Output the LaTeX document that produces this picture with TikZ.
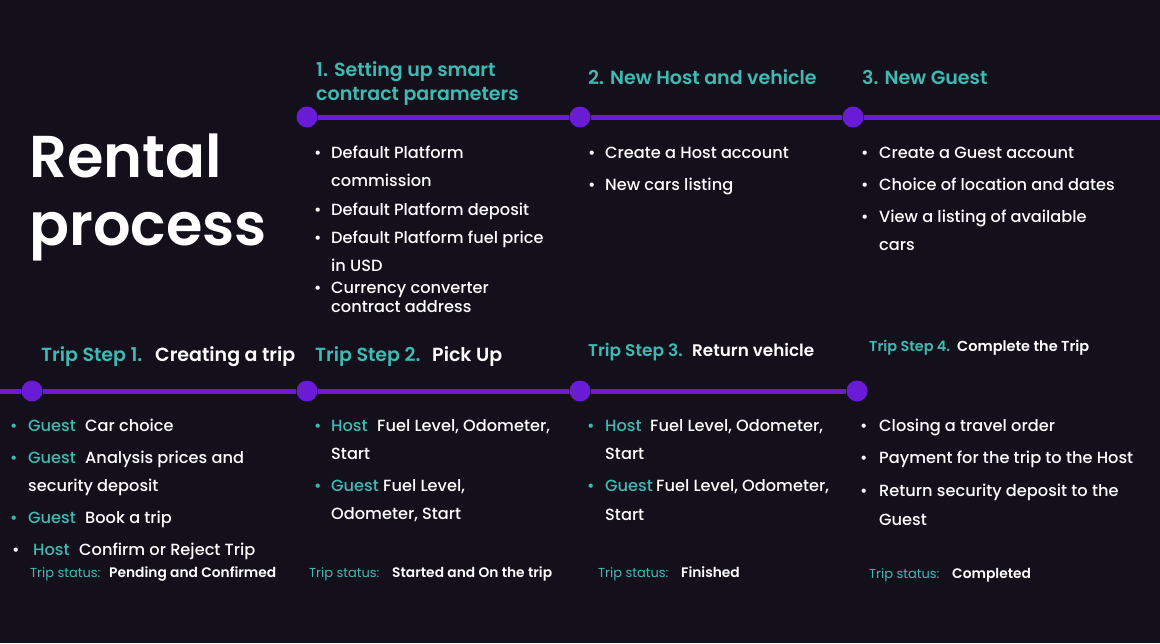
\documentclass[tikz,border=0pt]{standalone}
\usepackage{fontspec}
\setmainfont{Poppins}[UprightFont=* Medium, BoldFont=* SemiBold]
\newfontfamily\lightf{Poppins}
\definecolor{bgc}{HTML}{13101C}
\definecolor{purp}{HTML}{6A1BD6}
\definecolor{teal}{HTML}{3FBAB2}
\newcommand{\fs}[1]{\fontsize{#1}{#1}\selectfont}
\tikzset{
  tl/.style={line width=5pt, draw=purp},
  dotn/.style={circle, fill=purp, inner sep=0pt, minimum size=21pt},
  hd/.style={anchor=mid west, inner sep=0pt, yshift=-3.5pt, text=teal, font=\bfseries\fs{19}},
  tx/.style={anchor=mid west, inner sep=0pt, yshift=-3.5pt, text=white, font=\fs{16.2}},
  bl/.style={anchor=mid west, inner sep=0pt, yshift=-3.5pt, text=white, font=\fs{16}},
  st/.style={anchor=mid west, inner sep=0pt, yshift=-3pt, text=teal, font=\lightf\fs{13}},
  sv/.style={anchor=mid west, inner sep=0pt, yshift=-3pt, text=white, font=\bfseries\fs{13.8}},
}
\begin{document}
\begin{tikzpicture}[x=1pt,y=-1pt]
\fill[bgc] (0,0) rectangle (1160,643);
\useasboundingbox (0,0) rectangle (1160,643);
% title
\node[anchor=base west, inner sep=0pt, text=white, font=\bfseries\fs{59}] (r1) at (29,177) {Rental};
\node[anchor=base west, inner sep=0pt, text=white, font=\bfseries\fs{59}] (r2) at (29,245) {process};
% top timeline
\node[dotn] (t1) at (307,117) {};
\node[dotn] (t2) at (580,117) {};
\node[dotn] (t3) at (853,117) {};
\coordinate (tend) at (1160,117);
\draw[tl] (t1) -- (t2) -- (t3) -- (tend);
% bottom timeline
\coordinate (bstart) at (0,391);
\node[dotn] (b1) at (32,391) {};
\node[dotn] (b2) at (307,391) {};
\node[dotn] (b3) at (580,391) {};
\node[dotn] (b4) at (857,391) {};
\draw[tl] (bstart) -- (b1) -- (b2) -- (b3) -- (b4);
% section 1
\node[hd] (h1a) at (316,70) {1. Setting up smart};
\node[hd] (h1b) at (316,94) {contract parameters};
\node[bl] (s1b1) at (314,152) {•};
\node[tx] (s1t1) at (331,152) {Default Platform};
\node[tx] (s1t1b) at (331,180) {commission};
\node[bl] (s1b2) at (314,209) {•};
\node[tx] (s1t2) at (331,209) {Default Platform deposit};
\node[bl] (s1b3) at (314,237) {•};
\node[tx] (s1t3) at (331,237) {Default Platform fuel price};
\node[tx] (s1t3b) at (331,265) {in USD};
\node[bl] (s1b4) at (314,287) {•};
\node[tx] (s1t4) at (331,287) {Currency converter};
\node[tx] (s1t4b) at (331,306) {contract address};
% section 2
\node[hd] (h2) at (588,78) {2. New Host and vehicle};
\node[bl] (s2b1) at (588,152) {•};
\node[tx] (s2t1) at (605,152) {Create a Host account};
\node[bl] (s2b2) at (588,184) {•};
\node[tx] (s2t2) at (605,184) {New cars listing};
% section 3
\node[hd] (h3) at (862,78) {3. New Guest};
\node[bl] (s3b1) at (861,152) {•};
\node[tx] (s3t1) at (879,152) {Create a Guest account};
\node[bl] (s3b2) at (861,184) {•};
\node[tx] (s3t2) at (879,184) {Choice of location and dates};
\node[bl] (s3b3) at (861,216) {•};
\node[tx] (s3t3) at (879,216) {View a listing of available};
\node[tx] (s3t3b) at (879,244) {cars};
% trip step headings
\node[hd] (p1h) at (41,355) {Trip Step 1.};
\node[tx, font=\bfseries\fs{19}] (p1t) at (155,355) {Creating a trip};
\node[hd] (p2h) at (315,355) {Trip Step 2.};
\node[tx, font=\bfseries\fs{19}] (p2t) at (432,355) {Pick Up};
\node[hd, font=\bfseries\fs{17}] (p3h) at (588,350) {Trip Step 3.};
\node[tx, font=\bfseries\fs{16.8}] (p3t) at (692,350) {Return vehicle};
\node[hd, font=\bfseries\fs{14.4}, yshift=0.5pt] (p4h) at (869,346) {Trip Step 4.};
\node[tx, font=\bfseries\fs{14.5}, yshift=0.5pt] (p4t) at (957,346) {Complete the Trip};
% trip 1
\node[bl, text=teal] (q1b1) at (10,425) {•};
\node[tx, text=teal] (q1g1) at (28,425) {Guest};
\node[tx] (q1t1) at (85,425) {Car choice};
\node[bl, text=teal] (q1b2) at (10,457) {•};
\node[tx, text=teal] (q1g2) at (28,457) {Guest};
\node[tx] (q1t2) at (85,457) {Analysis prices and};
\node[tx] (q1t2b) at (28,485) {security deposit};
\node[bl, text=teal] (q1b3) at (10,517) {•};
\node[tx, text=teal] (q1g3) at (28,517) {Guest};
\node[tx] (q1t3) at (85,517) {Book a trip};
\node[bl] (q1b4) at (12,549) {•};
\node[tx, text=teal] (q1h4) at (33,549) {Host};
\node[tx] (q1t4) at (79,549) {Confirm or Reject Trip};
\node[st] (q1s) at (30,572) {Trip status:};
\node[sv] (q1v) at (109,572) {Pending and Confirmed};
% trip 2
\node[bl, text=teal] (q2b1) at (314,425) {•};
\node[tx, text=teal] (q2h1) at (331,425) {Host};
\node[tx] (q2t1) at (377,425) {Fuel Level, Odometer,};
\node[tx] (q2t1b) at (331,453) {Start};
\node[bl, text=teal] (q2b2) at (314,485) {•};
\node[tx, text=teal] (q2g2) at (331,485) {Guest};
\node[tx] (q2t2) at (383,485) {Fuel Level,};
\node[tx] (q2t2b) at (331,513) {Odometer, Start};
\node[st] (q2s) at (309,572) {Trip status:};
\node[sv] (q2v) at (392,572) {Started and On the trip};
% trip 3
\node[bl, text=teal] (q3b1) at (587,425) {•};
\node[tx, text=teal] (q3h1) at (605,425) {Host};
\node[tx] (q3t1) at (650,425) {Fuel Level, Odometer,};
\node[tx] (q3t1b) at (605,453) {Start};
\node[bl, text=teal] (q3b2) at (587,485) {•};
\node[tx, text=teal] (q3g2) at (605,485) {Guest};
\node[tx] (q3t2) at (656,485) {Fuel Level, Odometer,};
\node[tx] (q3t2b) at (605,514) {Start};
\node[st] (q3s) at (598,572) {Trip status:};
\node[sv] (q3v) at (681,572) {Finished};
% trip 4
\node[bl] (q4b1) at (860,425) {•};
\node[tx] (q4t1) at (879,425) {Closing a travel order};
\node[bl] (q4b2) at (860,457) {•};
\node[tx] (q4t2) at (879,457) {Payment for the trip to the Host};
\node[bl] (q4b3) at (860,490) {•};
\node[tx] (q4t3) at (879,490) {Return security deposit to the};
\node[tx] (q4t3b) at (879,519) {Guest};
\node[st] (q4s) at (869,573) {Trip status:};
\node[sv] (q4v) at (952,573) {Completed};
\end{tikzpicture}
\end{document}
